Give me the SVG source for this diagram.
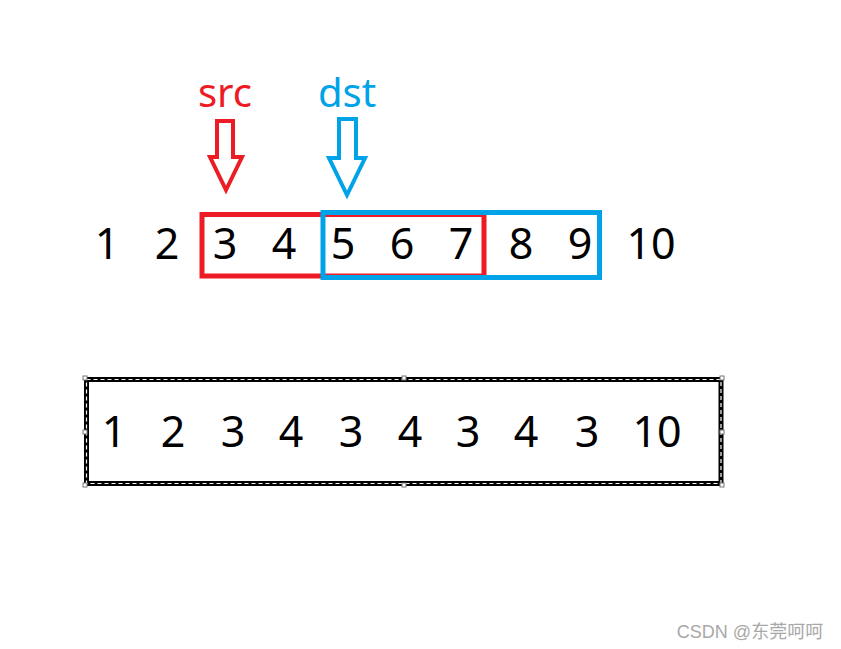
<svg xmlns="http://www.w3.org/2000/svg" width="841" height="649" viewBox="0 0 841 649">
<style>
.num{font-family:"Noto Sans","Open Sans",sans-serif;font-size:43px;fill:#000;text-anchor:middle}
.lbl{font-family:"Noto Sans","Open Sans",sans-serif;font-size:40px;text-anchor:middle}
.arrow{fill:#fff;stroke-width:4;stroke-linejoin:miter}
.handle{fill:#fff;stroke:#777;stroke-width:1}
</style>
<rect width="841" height="649" fill="#fff"/>
<g id="src-label"><text class="lbl" x="225" y="107" fill="#ED1C24">src</text></g>
<g id="dst-label"><text class="lbl" x="347" y="107" fill="#00A2E8">dst</text></g>
<g id="src-arrow"><polygon class="arrow" stroke="#ED1C24" points="217,121 233,121 233,157 242,157 226,190 210,157 217,157"/></g>
<g id="dst-arrow"><polygon class="arrow" stroke="#00A2E8" points="339,119 356,119 356,158 365,158 347,195 329,158 339,158"/></g>
<g id="src-box"><rect x="202" y="214.5" width="282" height="61.5" fill="none" stroke="#ED1C24" stroke-width="5"/></g>
<g id="dst-box"><rect x="323" y="212.5" width="276.5" height="65" fill="none" stroke="#00A2E8" stroke-width="5"/></g>
<g id="top-row">
<text class="num" x="107" y="259">1</text>
<text class="num" x="167" y="259">2</text>
<text class="num" x="225" y="259">3</text>
<text class="num" x="284" y="259">4</text>
<text class="num" x="343" y="259">5</text>
<text class="num" x="402" y="259">6</text>
<text class="num" x="461" y="259">7</text>
<text class="num" x="521" y="259">8</text>
<text class="num" x="580" y="259">9</text>
<text class="num" x="651" y="259">10</text>
</g>
<g id="result-box">
<rect x="86.5" y="379.5" width="634.5" height="104" fill="none" stroke="#000" stroke-width="5"/>
<rect x="86.5" y="379.5" width="634.5" height="104" fill="none" stroke="#fff" stroke-width="1.2" stroke-dasharray="4,3"/>
<rect class="handle" x="83" y="376" width="4" height="4"/>
<rect class="handle" x="402" y="376" width="4" height="4"/>
<rect class="handle" x="720" y="376" width="4" height="4"/>
<rect class="handle" x="83" y="430" width="4" height="4"/>
<rect class="handle" x="720" y="430" width="4" height="4"/>
<rect class="handle" x="83" y="483" width="4" height="4"/>
<rect class="handle" x="402" y="483" width="4" height="4"/>
<rect class="handle" x="720" y="483" width="4" height="4"/>
</g>
<g id="bottom-row">
<text class="num" x="114" y="447">1</text>
<text class="num" x="173" y="447">2</text>
<text class="num" x="233" y="447">3</text>
<text class="num" x="291" y="447">4</text>
<text class="num" x="351" y="447">3</text>
<text class="num" x="410" y="447">4</text>
<text class="num" x="468" y="447">3</text>
<text class="num" x="526" y="447">4</text>
<text class="num" x="587" y="447">3</text>
<text class="num" x="657" y="447">10</text>
</g>
<g id="watermark"><text x="750" y="638" font-family="'Liberation Sans','Noto Sans CJK SC',sans-serif" font-size="18" fill="#a8a8a8" text-anchor="middle">CSDN @东莞呵呵</text></g>
</svg>
